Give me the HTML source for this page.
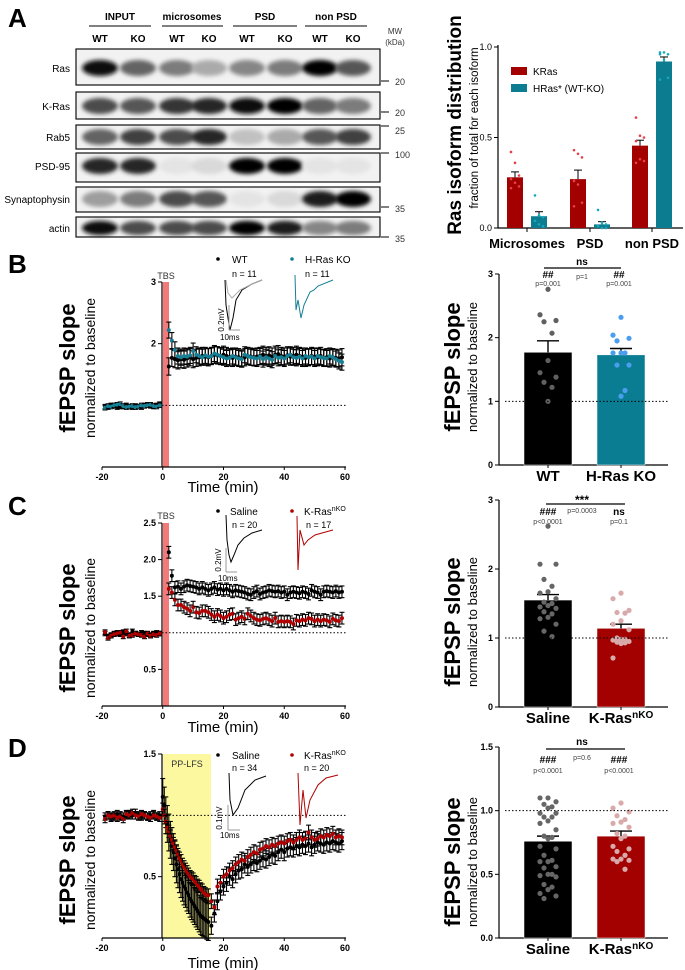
<!DOCTYPE html>
<html><head><meta charset="utf-8">
<style>
html,body{margin:0;padding:0;background:#fff;}
svg{display:block;font-family:"Liberation Sans",Arial,sans-serif;}
</style></head>
<body>
<svg id="fig" width="685" height="970" viewBox="0 0 685 970" xmlns="http://www.w3.org/2000/svg">
<defs>
<filter id="blur" x="-50%" y="-100%" width="200%" height="300%"><feGaussianBlur stdDeviation="2"/></filter>
</defs>
</svg>
<script>
// ---------- DATA ----------
const blotRows = ["Ras","K-Ras","Rab5","PSD-95","Synaptophysin","actin"];
const blotRas = [0.95,0.6,0.5,0.3,0.45,0.5,1.0,0.65];
const blotKRas = [0.7,0.65,0.8,0.85,0.95,1.0,0.6,0.5];
const blotRab5 = [0.6,0.75,0.7,0.85,0.2,0.3,0.65,0.75];
const blotPSD95 = [0.85,0.85,0.05,0.1,1.0,1.0,0.05,0.05];
const blotSyn = [0.35,0.5,0.7,0.65,0.05,0.1,0.9,1.0];
const blotActin = [0.95,0.7,0.7,0.7,1.0,0.9,0.45,0.5];

const aCats = ["Microsomes","PSD","non PSD"];
const aKRas = [0.28,0.27,0.455];
const aKRasErr = [0.03,0.05,0.03];
const aHRas = [0.065,0.02,0.92];
const aHRasErr = [0.025,0.015,0.025];
const aKRasPts = [[0.42,0.36,0.29,0.27,0.25,0.23,0.22],[0.43,0.41,0.39,0.26,0.24,0.14,0.12],[0.61,0.51,0.5,0.48,0.38,0.37,0.36]];
const aHRasPts = [[0.18,0.07,0.06,0.04,0.02,0.01],[0.1,0.03,0.02,0.01,0.0,0.0],[0.97,0.97,0.96,0.96,0.93,0.83,0.82]];
const aTicks = [0.0,0.5,1.0];

const bWTBase = [0.98,0.97,1.0,0.99,0.97,0.98,0.98,1.0,0.98,0.97,0.99,0.98,0.97,1.0,1.01,0.99,0.98,1.0,1.02];
const bWTPost = [1.63,1.77,1.75,1.73,1.75,1.74,1.76,1.78,1.75,1.77,1.78,1.80,1.79,1.78,1.80,1.82,1.81,1.80,1.82,1.80,1.78,1.77,1.79,1.78,1.76,1.78,1.80,1.79,1.78,1.79,1.80,1.82,1.80,1.81,1.79,1.82,1.83,1.80,1.79,1.81,1.79,1.80,1.82,1.80,1.79,1.77,1.78,1.80,1.79,1.78,1.80,1.77,1.78,1.76,1.78,1.77,1.76,1.78];
const bKOBase = [0.96,0.99,0.98,1.0,1.01,1.02,0.99,0.97,0.98,0.99,0.97,0.98,1.0,0.99,1.0,1.01,0.99,0.98,1.0];
const bKOPost = [2.22,2.05,1.9,1.8,1.78,1.8,1.79,1.81,1.88,1.82,1.80,1.78,1.81,1.79,1.80,1.84,1.82,1.80,1.78,1.76,1.77,1.8,1.78,1.76,1.75,1.82,1.80,1.78,1.77,1.76,1.79,1.75,1.78,1.76,1.74,1.80,1.77,1.78,1.76,1.80,1.82,1.78,1.77,1.79,1.76,1.80,1.78,1.79,1.76,1.80,1.78,1.77,1.76,1.80,1.78,1.75,1.72,1.70];
const bErr = [0.14,0.13];
const bBarVals = [1.77,1.73];
const bBarErr = [0.18,0.1];
const bBarCats = ["WT","H-Ras KO"];
const bWTPts = [2.76,2.36,2.27,2.25,2.07,1.64,1.45,1.38,1.3,1.22,1.0];
const bKOPts = [2.32,2.04,1.99,1.95,1.76,1.76,1.76,1.57,1.57,1.17,1.08];

const cSalBase = [0.99,0.95,0.97,0.99,1.0,0.98,1.01,0.99,0.97,1.02,0.99,0.98,1.0,0.99,0.98,0.97,0.99,1.0,0.99];
const cSalPost = [2.1,1.78,1.62,1.63,1.6,1.63,1.65,1.64,1.63,1.62,1.6,1.62,1.6,1.58,1.6,1.62,1.59,1.6,1.58,1.6,1.58,1.56,1.58,1.57,1.56,1.55,1.53,1.52,1.55,1.57,1.53,1.55,1.56,1.58,1.57,1.56,1.57,1.55,1.56,1.52,1.55,1.56,1.55,1.54,1.56,1.55,1.53,1.58,1.56,1.55,1.52,1.56,1.57,1.56,1.55,1.57,1.55,1.56];
const cKOBase = [1.01,0.93,0.96,0.98,0.99,1.0,0.95,1.02,0.96,0.97,0.99,0.98,0.97,0.95,0.99,0.96,0.98,0.97,0.99];
const cKOPost = [1.6,1.55,1.45,1.38,1.38,1.35,1.33,1.30,1.35,1.28,1.27,1.30,1.30,1.28,1.25,1.22,1.25,1.23,1.2,1.22,1.25,1.26,1.18,1.2,1.22,1.19,1.26,1.23,1.20,1.18,1.17,1.19,1.20,1.18,1.16,1.2,1.15,1.16,1.15,1.16,1.15,1.12,1.17,1.16,1.18,1.17,1.2,1.19,1.16,1.18,1.16,1.18,1.17,1.15,1.19,1.17,1.16,1.2];
const cErr = [0.08,0.08];
const cBarVals = [1.55,1.14];
const cBarErr = [0.08,0.06];
const cSalPts = [2.62,2.07,2.07,1.85,1.75,1.67,1.65,1.57,1.52,1.5,1.47,1.45,1.43,1.38,1.35,1.3,1.28,1.2,1.1,1.02];
const cKOPts = [1.65,1.57,1.4,1.37,1.36,1.25,1.2,1.12,1.0,0.98,0.98,0.97,0.95,0.94,0.93,0.92,0.71];

const dSalBase = [0.99,1.0,0.98,0.99,1.01,1.0,0.99,1.0,1.01,1.0,1.02,1.0,0.99,1.0,0.99,1.0,1.01,0.99,1.0];
const dSalLfs = [1.15,1.08,1.0,0.93,0.86,0.80,0.75,0.70,0.65,0.60,0.56,0.52,0.48,0.45,0.42,0.40,0.37,0.35,0.32,0.30,0.28,0.26,0.24,0.22,0.20,0.18,0.17,0.16,0.15,0.14,0.13];
const dSalRec = [0.1,0.2,0.3,0.38,0.42,0.45,0.5,0.48,0.52,0.55,0.56,0.6,0.58,0.6,0.62,0.61,0.63,0.65,0.64,0.66,0.68,0.67,0.70,0.72,0.70,0.73,0.74,0.73,0.75,0.74,0.76,0.75,0.77,0.74,0.76,0.78,0.77,0.76,0.78,0.77,0.79,0.78,0.77,0.79];
const dKOBase = [0.97,1.0,0.99,1.0,0.98,0.99,0.97,1.01,1.0,1.02,1.0,0.99,1.01,1.0,0.99,0.98,1.0,0.99,0.98];
const dKOLfs = [1.05,1.0,0.95,0.9,0.87,0.83,0.80,0.77,0.74,0.71,0.68,0.65,0.63,0.60,0.58,0.56,0.54,0.52,0.50,0.49,0.48,0.46,0.45,0.43,0.42,0.40,0.39,0.37,0.36,0.35,0.35];
const dKORec = [0.3,0.25,0.42,0.45,0.5,0.52,0.55,0.57,0.6,0.62,0.64,0.63,0.66,0.68,0.7,0.69,0.72,0.73,0.75,0.74,0.76,0.75,0.77,0.78,0.77,0.79,0.80,0.78,0.80,0.82,0.80,0.81,0.86,0.82,0.80,0.81,0.83,0.82,0.84,0.83,0.85,0.82,0.83,0.82];
const dErrSal = [0.03,0.15,0.07];
const dErrKO = [0.03,0.05,0.06];
const dBarVals = [0.76,0.80];
const dBarErr = [0.04,0.04];
const dSalPts = [1.1,1.1,1.07,1.05,1.03,1.02,0.98,0.98,0.95,0.95,0.92,0.9,0.85,0.8,0.79,0.78,0.72,0.7,0.65,0.61,0.6,0.6,0.56,0.55,0.5,0.5,0.49,0.48,0.42,0.4,0.38,0.35,0.33,0.31];
const dKOPts = [1.06,1.02,0.99,0.96,0.93,0.91,0.9,0.87,0.82,0.8,0.78,0.72,0.7,0.68,0.65,0.62,0.62,0.61,0.6,0.54];
const ctrlCats = ["Saline","K-Ras"];

// ---------- HELPERS ----------
const NS = "http://www.w3.org/2000/svg";
const S = document.getElementById('fig');
function mk(tag, attrs, name, parent){
  const e = document.createElementNS(NS, tag);
  for (const k in attrs) e.setAttribute(k, attrs[k]);
  
  
  (parent || S).appendChild(e);
  return e;
}
function txt(x, y, s, size, weight, anchor, name, fill, rot){
  const a = {x:x, y:y, 'font-size':size, 'font-weight':weight||'normal', 'text-anchor':anchor||'start', fill:fill||'#000'};
  if (rot) a.transform = 'rotate(-90 '+x+' '+y+')';
  const t = mk('text', a, name);
  t.textContent = s;
  return t;
}
function line(x1,y1,x2,y2,stroke,w,name,dash){
  const a = {x1:x1,y1:y1,x2:x2,y2:y2,stroke:stroke,'stroke-width':w};
  if (dash) a['stroke-dasharray'] = dash;
  return mk('line', a, name);
}
function lin(d0,d1,r0,r1){ return v => r0 + (v-d0)*(r1-r0)/(d1-d0); }

txt(8,27,"A",26,"bold","start","panel-label-a");
txt(8,273,"B",26,"bold","start","panel-label-b");
txt(8,515,"C",26,"bold","start","panel-label-c");
txt(8,757,"D",26,"bold","start","panel-label-d");

// ---------- WESTERN BLOT ----------
const laneX = [100,138,177,209,247,285,320,353];
const groups = [["INPUT",120,89,151],["microsomes",192,162,223],["PSD",265,233,297],["non PSD",336,305,367]];
groups.forEach(g=>{
  txt(g[1],20,g[0],10,"bold","middle","blot-group-label");
  line(g[2],26,g[3],26,"#000",1,"blot-group-line");
});
laneX.forEach((x,i)=>{ txt(x,42,i%2?"KO":"WT",10,"bold","middle","blot-lane-label"); });
txt(395,34,"MW",8,"normal","middle","mw-label","#333");
txt(395,45,"(kDa)",8,"normal","middle","mw-unit-label","#333");
const boxes = [[49,85,68,blotRas],[92,119,106,blotKRas],[125,149,137,blotRab5],[153,182,166,blotPSD95],[187,212,199,blotSyn],[217,237,228,blotActin]];
boxes.forEach((b,r)=>{
  mk('rect',{x:76,y:b[0],width:304,height:b[1]-b[0],fill:"#f2f2f2",stroke:"#111","stroke-width":1.2},"blot-membrane");
  txt(70,b[2]+4,blotRows[r],10,"normal","end","blot-row-label");
  const vals = b[3];
  vals.forEach((v,i)=>{
    const g = Math.round(240 - v*235);
    mk('ellipse',{cx:laneX[i],cy:b[2],rx:18,ry:Math.min(8,(b[1]-b[0])/2.8),fill:"rgb("+g+","+g+","+g+")",filter:"url(#blur)"},"blot-band");
  });
});
[[82,"20",81],[113,"20",112],[131,"25",126],[155,"100",153],[209,"35",207],[239,"35",237]].forEach(m=>{
  line(381,m[2],389,m[2],"#000",1,"mw-tick");
  txt(395,m[0]+3,m[1],9,"normal","start","mw-value","#333");
});

// ---------- PANEL A BAR CHART ----------
(function(){
  const sy = lin(0,1,228,47);
  const centers = [527,590,652];
  txt(461,125,"Ras isoform distribution",19,"bold","middle","a-y-title","#000",true);
  txt(478,128,"fraction of total for each isoform",11.5,"normal","middle","a-y-subtitle","#000",true);
  line(498,45,498,228,"#000",1.2,"a-y-axis");
  line(498,228,683,228,"#000",1.2,"a-x-axis");
  aTicks.forEach(t=>{
    line(494,sy(t),498,sy(t),"#000",1,"a-y-tick");
    txt(492,sy(t)+3,t.toFixed(1),9,"normal","end","a-y-tick-label");
  });
  aCats.forEach((c,i)=>{
    const cx = centers[i];
    line(cx,228,cx,232,"#000",1,"a-x-tick");
    txt(cx,248,c,13,"bold","middle","a-x-label");
    const series = [[aKRas[i],aKRasErr[i],aKRasPts[i],cx-12,"#a30000","#e8404a"],[aHRas[i],aHRasErr[i],aHRasPts[i],cx+12,"#0c7c90","#16a7c0"]];
    series.forEach(s=>{
      mk('rect',{x:s[3]-8,y:sy(s[0]),width:16,height:228-sy(s[0]),fill:s[4]},"a-bar");
      line(s[3],sy(s[0]),s[3],sy(s[0]+s[1]),"#000",1,"a-error-bar");
      line(s[3]-4,sy(s[0]+s[1]),s[3]+4,sy(s[0]+s[1]),"#000",1,"a-error-cap");
      s[2].forEach((p,j)=>{
        mk('circle',{cx:s[3]+((j%3)-1)*4,cy:sy(p),r:1.3,fill:s[5]},"a-point");
      });
    });
  });
  mk('rect',{x:511,y:67,width:16,height:8,fill:"#a30000"},"legend-swatch-kras");
  txt(533,75,"KRas",10,"normal","start","legend-label-kras");
  mk('rect',{x:511,y:84,width:16,height:8,fill:"#0c7c90"},"legend-swatch-hras");
  txt(533,92,"HRas* (WT-KO)",10,"normal","start","legend-label-hras");
})();

// ---------- TIME COURSE PANELS ----------
function timeAxes(sx, sy, yTop, yBot, ticks, dotY, p){
  line(162,yTop,162,yBot,"#000",1.2,p+"-y-axis");
  line(102,yBot,346,yBot,"#000",1.2,p+"-x-axis");
  ticks.forEach(t=>{
    line(158,sy(t[0]),162,sy(t[0]),"#000",1,p+"-y-tick");
    txt(156,sy(t[0])+3,t[1],9,"bold","end",p+"-y-tick-label");
  });
  [-20,0,20,40,60].forEach(t=>{
    line(sx(t),yBot,sx(t),yBot+3,"#000",1,p+"-x-tick");
    txt(sx(t),yBot+13,String(t),9,"bold","middle",p+"-x-tick-label");
  });
  line(162,dotY,346,dotY,"#000",1,p+"-baseline-line","1.5,2");
}
function series(sx, sy, vals, t0, step, err, color, p){
  vals.forEach((v,i)=>{
    const x = sx(t0+i*step), y = sy(v);
    line(x,sy(v+err),x,sy(v-err),"#000",1.1,p+"-error-bar");
    line(x-2.5,sy(v+err),x+2.5,sy(v+err),"#000",1.1,p+"-error-cap");
    line(x-2.5,sy(v-err),x+2.5,sy(v-err),"#000",1.1,p+"-error-cap");
    mk('circle',{cx:x,cy:y,r:2,fill:color},p+"-point");
  });
}
function leftTitles(cy, p){
  txt(75,cy,"fEPSP slope",22,"bold","middle",p+"-y-title","#000",true);
  txt(95,cy,"normalized to baseline",14,"normal","middle",p+"-y-subtitle","#000",true);
}
const sxT = lin(-20,60,102,345);

// Panel B
(function(){
  const sy = lin(0,3,467,282);
  mk('rect',{x:163,y:282,width:6,height:185,fill:"#f47a7a"},"b-tbs-band");
  txt(166,279,"TBS",9,"normal","middle","b-tbs-label","#333");
  timeAxes(sxT,sy,282,467,[[2,"2"],[3,"3"]],sy(1),"b");
  series(sxT,sy,bWTBase,-19,1,0.035,"#000","b-wt");
  series(sxT,sy,bKOBase,-19,1,0.035,"#167f94","b-ko");
  series(sxT,sy,bWTPost,2,1,bErr[0],"#000","b-wt");
  series(sxT,sy,bKOPost,2,1,bErr[1],"#167f94","b-ko");
  leftTitles(368,"b");
  txt(223,492,"Time (min)",15,"normal","middle","b-x-title");
  mk('circle',{cx:218,cy:259,r:1.8,fill:"#000"},"b-legend-dot-wt");
  txt(232,263,"WT",10,"normal","start","b-legend-wt");
  txt(232,277,"n = 11",9,"normal","start","b-legend-n-wt");
  mk('circle',{cx:292,cy:259,r:1.8,fill:"#167f94"},"b-legend-dot-ko");
  txt(305,263,"H-Ras KO",10,"normal","start","b-legend-ko");
  txt(305,277,"n = 11",9,"normal","start","b-legend-n-ko");
  mk('path',{d:"M225,280 L226,305 L228,318 L230,330 L233,318 L236,300 L242,290 L252,284 L262,280",fill:"none",stroke:"#000","stroke-width":1},"b-trace-wt");
  mk('path',{d:"M226,280 L228,293 L232,298 L240,290 L252,284 L262,280",fill:"none",stroke:"#aaa","stroke-width":1},"b-trace-wt-base");
  mk('path',{d:"M295,275 L296,310 L298,300 L301,318 L304,305 L310,292 L314,290 L318,286 L333,280",fill:"none",stroke:"#167f94","stroke-width":1},"b-trace-ko");
  line(229,305,229,330,"#999",1,"b-scale-v");
  line(229,330,240,330,"#999",1,"b-scale-h");
  txt(224,320,"0.2mV",8,"normal","middle","b-scale-v-label","#000",true);
  txt(220,340,"10ms",8,"normal","start","b-scale-h-label");
})();

// Panel C
(function(){
  const sy = lin(0,2.5,706,523);
  mk('rect',{x:163,y:523,width:6,height:183,fill:"#f47a7a"},"c-tbs-band");
  txt(166,519,"TBS",9,"normal","middle","c-tbs-label","#333");
  timeAxes(sxT,sy,523,706,[[0.5,"0.5"],[1.5,"1.5"],[2.0,"2.0"],[2.5,"2.5"]],sy(1),"c");
  series(sxT,sy,cSalBase,-19,1,0.03,"#000","c-saline");
  series(sxT,sy,cKOBase,-19,1,0.03,"#b00000","c-ko");
  series(sxT,sy,cSalPost,2,1,cErr[0],"#000","c-saline");
  series(sxT,sy,cKOPost,2,1,cErr[1],"#b00000","c-ko");
  leftTitles(628,"c");
  txt(223,732,"Time (min)",15,"normal","middle","c-x-title");
  mk('circle',{cx:218,cy:511,r:1.8,fill:"#000"},"c-legend-dot-saline");
  txt(230,515,"Saline",10,"normal","start","c-legend-saline");
  txt(232,528,"n = 20",9,"normal","start","c-legend-n-saline");
  mk('circle',{cx:292,cy:511,r:1.8,fill:"#b00000"},"c-legend-dot-ko");
  const t = txt(304,515,"K-Ras",10,"normal","start","c-legend-ko");
  const sup = document.createElementNS(NS,'tspan'); sup.setAttribute('dy','-4'); sup.setAttribute('font-size','7'); sup.textContent='nKO'; t.appendChild(sup);
  txt(306,528,"n = 17",9,"normal","start","c-legend-n-ko");
  mk('path',{d:"M226,515 L227,540 L229,555 L231,562 L234,555 L238,545 L244,538 L252,533 L262,530",fill:"none",stroke:"#000","stroke-width":1},"c-trace-saline");
  mk('path',{d:"M297,516 L298,570 L300,530 L304,545 L308,540 L315,535 L322,533 L333,530",fill:"none",stroke:"#b00000","stroke-width":1},"c-trace-ko");
  line(226,548,226,572,"#999",1,"c-scale-v");
  line(226,572,237,572,"#999",1,"c-scale-h");
  txt(221,560,"0.2mV",8,"normal","middle","c-scale-v-label","#000",true);
  txt(218,581,"10ms",8,"normal","start","c-scale-h-label");
})();

// Panel D
(function(){
  const sy = lin(0,1.5,938,754);
  mk('rect',{x:163,y:754,width:48,height:184,fill:"#fbf8a0"},"d-lfs-band");
  txt(187,767,"PP-LFS",9,"normal","middle","d-lfs-label","#333");
  timeAxes(sxT,sy,754,938,[[0.5,"0.5"],[1.5,"1.5"]],sy(1),"d");
  series(sxT,sy,dSalBase,-19,1,dErrSal[0],"#000","d-saline");
  series(sxT,sy,dKOBase,-19,1,dErrKO[0],"#b00000","d-ko");
  series(sxT,sy,dSalLfs,0,0.5,dErrSal[1],"#000","d-saline");
  series(sxT,sy,dKOLfs,0,0.5,dErrKO[1],"#b00000","d-ko");
  series(sxT,sy,dSalRec,16,1,dErrSal[2],"#000","d-saline");
  series(sxT,sy,dKORec,16,1,dErrKO[2],"#b00000","d-ko");
  leftTitles(860,"d");
  txt(223,968,"Time (min)",15,"normal","middle","d-x-title");
  mk('circle',{cx:218,cy:755,r:1.8,fill:"#000"},"d-legend-dot-saline");
  txt(232,759,"Saline",10,"normal","start","d-legend-saline");
  txt(232,771,"n = 34",9,"normal","start","d-legend-n-saline");
  mk('circle',{cx:292,cy:755,r:1.8,fill:"#b00000"},"d-legend-dot-ko");
  const t = txt(304,759,"K-Ras",10,"normal","start","d-legend-ko");
  const sup = document.createElementNS(NS,'tspan'); sup.setAttribute('dy','-4'); sup.setAttribute('font-size','7'); sup.textContent='nKO'; t.appendChild(sup);
  txt(304,771,"n = 20",9,"normal","start","d-legend-n-ko");
  mk('path',{d:"M229,773 L230,800 L233,815 L238,808 L245,790 L255,780 L266,776",fill:"none",stroke:"#000","stroke-width":1},"d-trace-saline");
  mk('path',{d:"M298,773 L300,825 L303,790 L306,818 L310,800 L318,785 L326,778 L338,775",fill:"none",stroke:"#b00000","stroke-width":1},"d-trace-ko");
  line(228,805,228,830,"#999",1,"d-scale-v");
  line(228,830,240,830,"#999",1,"d-scale-h");
  txt(222,818,"0.1mV",8,"normal","middle","d-scale-v-label","#000",true);
  txt(220,838,"10ms",8,"normal","start","d-scale-h-label");
})();

// ---------- RIGHT BAR CHARTS ----------
function barChart(cfg){
  const p = cfg.p, sy = cfg.sy, centers = [548,621];
  line(499,cfg.yTop,499,cfg.yBot,"#000",1.2,p+"-bar-y-axis");
  line(499,cfg.yBot,668,cfg.yBot,"#000",1.2,p+"-bar-x-axis");
  cfg.ticks.forEach(t=>{
    line(495,sy(t[0]),499,sy(t[0]),"#000",1,p+"-bar-y-tick");
    txt(493,sy(t[0])+3,t[1],9,"bold","end",p+"-bar-y-tick-label");
  });
  txt(460,cfg.titleY,"fEPSP slope",22,"bold","middle",p+"-bar-y-title","#000",true);
  txt(477,cfg.titleY,"normalized to baseline",13,"normal","middle",p+"-bar-y-subtitle","#000",true);
  cfg.vals.forEach((v,i)=>{
    const cx = centers[i];
    mk('rect',{x:cx-24,y:sy(v),width:48,height:cfg.yBot-sy(v),fill:cfg.colors[i],stroke:"#fff","stroke-width":0.5},p+"-bar");
    line(cx,sy(v),cx,sy(v+cfg.err[i]),"#000",1.4,p+"-bar-error");
    line(cx-11,sy(v+cfg.err[i]),cx+11,sy(v+cfg.err[i]),"#000",1.4,p+"-bar-error-cap");
    line(cx,cfg.yBot,cx,cfg.yBot+3,"#000",1,p+"-bar-x-tick");
    const lab = txt(cx,cfg.yBot+16,cfg.cats[i],15,"bold","middle",p+"-bar-x-label");
    if (cfg.sup && i===1){ const s=document.createElementNS(NS,'tspan'); s.setAttribute('dy','-5'); s.setAttribute('font-size','10'); s.textContent='nKO'; lab.appendChild(s); }
    const pts = cfg.pts[i];
    pts.forEach((q,j)=>{
      mk('circle',{cx:cx+[0,-8,8,-4,4][j%5],cy:sy(q),r:2.6,fill:cfg.dot[i]},p+"-bar-point");
    });
  });
  line(505,sy(1),668,sy(1),"#000",1,p+"-bar-baseline","1.5,2");
}
barChart({p:"b",sy:lin(0,3,465,274),yTop:274,yBot:465,ticks:[[0,"0"],[1,"1"],[2,"2"],[3,"3"]],titleY:367,vals:bBarVals,err:bBarErr,cats:bBarCats,colors:["#000","#0a7d92"],dot:["#606060","#4a9ef0"],pts:[bWTPts,bKOPts]});
barChart({p:"c",sy:lin(0,3,707,500),yTop:500,yBot:707,ticks:[[0,"0"],[1,"1"],[2,"2"],[3,"3"]],titleY:622,vals:cBarVals,err:cBarErr,cats:ctrlCats,colors:["#000","#a30000"],dot:["#666","#d9aaaa"],pts:[cSalPts,cKOPts],sup:true});
barChart({p:"d",sy:lin(0,1.5,938,747),yTop:747,yBot:938,ticks:[[0,"0.0"],[0.5,"0.5"],[1.0,"1.0"],[1.5,"1.5"]],titleY:862,vals:dBarVals,err:dBarErr,cats:ctrlCats,colors:["#000","#a30000"],dot:["#666","#d9aaaa"],pts:[dSalPts,dKOPts],sup:true});

line(544,268,621,268,"#000",1.2,"b-sig-line");
txt(582,265,"ns",10,"bold","middle","b-sig-ns");
txt(548,278,"##",10,"bold","middle","b-sig-wt");
txt(548,286,"p=0.001",7,"normal","middle","b-p-wt","#444");
txt(582,279,"p=1",7,"normal","middle","b-p-between","#444");
txt(619,278,"##",10,"bold","middle","b-sig-ko");
txt(619,286,"p=0.001",7,"normal","middle","b-p-ko","#444");

line(546,504,625,504,"#000",1.2,"c-sig-line");
txt(582,504,"***",12,"bold","middle","c-sig-stars");
txt(548,515,"###",10,"bold","middle","c-sig-saline");
txt(548,524,"p<0.0001",7,"normal","middle","c-p-saline","#444");
txt(582,513,"p=0.0003",7,"normal","middle","c-p-between","#444");
txt(619,515,"ns",10,"bold","middle","c-sig-ko");
txt(619,524,"p=0.1",7,"normal","middle","c-p-ko","#444");

line(546,749,625,749,"#000",1.2,"d-sig-line");
txt(582,745,"ns",10,"bold","middle","d-sig-ns");
txt(548,763,"###",10,"bold","middle","d-sig-saline");
txt(548,773,"p<0.0001",7,"normal","middle","d-p-saline","#444");
txt(582,760,"p=0.6",7,"normal","middle","d-p-between","#444");
txt(619,763,"###",10,"bold","middle","d-sig-ko");
txt(619,773,"p<0.0001",7,"normal","middle","d-p-ko","#444");
</script>
</body></html>
